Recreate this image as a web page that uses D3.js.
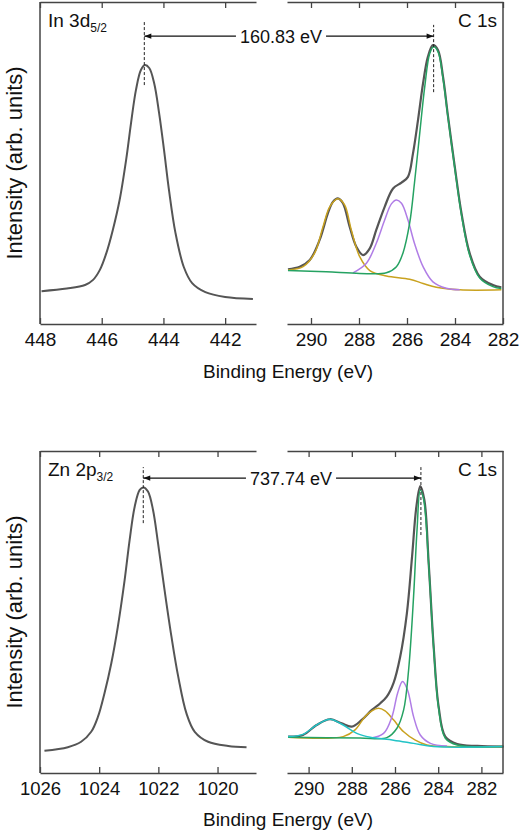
<!DOCTYPE html>
<html>
<head>
<meta charset="utf-8">
<script src="https://cdn.jsdelivr.net/npm/d3@7"></script>
<style>
  html, body { margin: 0; padding: 0; background: #fff; }
  svg { display: block; font-family: "Liberation Sans", Arial, Helvetica, sans-serif; }
</style>
</head>
<body>
<svg id="chart" width="520" height="833"></svg>
<script>
// ---------------- DATA ----------------
// tick labels
const ticksIn = [448, 446, 444, 442];
const ticksCTop = [290, 288, 286, 284, 282];
const ticksZn = [1026, 1024, 1022, 1020];
const ticksCBot = [290, 288, 286, 284, 282];

// In 3d5/2 spectrum
const inE = [447.95,447.13,446.54,446.28,446.06,445.85,445.64,445.42,445.21,445.05,444.89,444.73,444.60,444.46,444.30,444.14,443.98,443.82,443.61,443.34,443.07,442.64,442.00,441.10];
const inI = [10.2,11.0,12.1,13.7,16.8,22.0,29.2,38.5,50.9,62.4,72.7,78.9,80.4,79.5,74.8,65.5,54.0,41.6,28.3,17.7,12.7,9.9,8.4,7.8];

// C 1s (top) envelope and components
const cTopEnvE = [290.96,290.47,290.05,289.64,289.29,289.08,288.88,288.67,288.39,288.11,287.83,287.55,287.28,286.93,286.58,286.23,285.96,285.75,285.54,285.33,285.13,284.92,284.71,284.50,284.29,284.01,283.73,283.39,282.97,282.42,282.07];
const cTopEnvI = [17.0,17.8,19.9,26.1,34.5,38.0,39.0,37.5,30.2,24.0,21.4,23.5,29.2,36.4,42.1,43.9,45.7,53.0,63.4,74.8,83.0,86.6,85.1,76.8,64.4,48.9,34.4,22.0,14.7,12.1,11.4];
const cTopGreenE = [290.96,289.36,287.97,286.86,286.44,286.17,285.89,285.69,285.47,285.26,285.05,284.89,284.71,284.50,284.29,284.01,283.73,283.39,282.97,282.42,282.07];
const cTopGreenI = [16.6,16.2,15.7,15.9,17.8,22.0,31.3,43.7,59.2,73.7,84.1,86.1,84.6,76.3,64.0,48.4,33.9,21.4,14.3,11.6,11.0];
const cTopPurpleE = [288.25,287.69,287.28,286.93,286.65,286.44,286.23,285.96,285.69,285.33,284.92,284.36,283.80];
const cTopPurpleI = [15.9,18.9,25.1,32.3,37.3,38.5,37.5,32.3,25.1,17.8,13.1,11.1,10.6];
const cTopGoldE = [290.96,290.33,289.85,289.50,289.22,288.88,288.60,288.32,287.97,287.55,286.86,285.89,285.33,284.78,283.80,282.07];
const cTopGoldI = [16.8,17.8,22.0,30.2,36.4,38.9,37.0,29.2,20.9,16.6,14.9,13.9,12.6,11.4,10.6,10.6];

// Zn 2p3/2 spectrum
const znE = [1025.85,1025.06,1024.61,1024.27,1024.04,1023.82,1023.59,1023.37,1023.14,1022.97,1022.80,1022.63,1022.50,1022.35,1022.18,1022.01,1021.79,1021.56,1021.33,1021.05,1020.77,1020.32,1019.64,1019.02];
const znI = [6.9,8.0,9.7,12.8,17.5,24.8,34.1,45.4,59.9,72.4,82.7,87.9,88.7,87.4,81.7,71.3,56.8,42.5,30.0,18.5,12.8,9.7,8.4,8.0];

// C 1s (bottom) envelope and components
const cBotEnvE = [290.95,290.26,289.63,289.01,288.47,288.00,287.54,287.07,286.69,286.38,286.07,285.76,285.45,285.21,285.01,284.83,284.64,284.44,284.21,283.98,283.67,283.12,282.19,280.98];
const cBotEnvI = [11.3,11.8,14.9,16.7,15.4,14.4,16.5,19.6,21.6,23.7,27.9,36.1,49.6,67.2,82.7,89.1,84.8,65.1,39.2,20.6,11.3,9.0,8.4,8.2];
const cBotGreenE = [290.95,287.62,286.38,285.91,285.60,285.37,285.14,284.98,284.83,284.67,284.44,284.21,283.98,283.67,283.12,280.98];
const cBotGreenI = [11.1,10.9,11.0,13.9,19.6,32.0,54.8,75.5,87.9,84.8,64.6,38.7,20.1,10.8,8.7,8.2];
const cBotPurpleE = [287.15,286.53,286.14,285.88,285.65,285.42,285.14,284.83,284.36,283.59];
const cBotPurpleI = [10.8,12.3,17.5,24.8,28.4,25.8,17.5,11.8,9.2,8.4];
const cBotGoldE = [290.95,288.40,287.85,287.39,287.07,286.77,286.46,286.07,285.60,285.06,284.52,283.59,280.98];
const cBotGoldI = [11.1,11.3,13.4,17.5,19.3,20.1,19.3,16.5,12.8,10.2,8.7,8.2,8.2];
const cBotCyanE = [290.95,290.26,289.63,289.01,288.40,287.77,287.15,286.07,285.14,284.21,280.98];
const cBotCyanI = [11.3,12.0,14.9,16.7,14.9,12.3,11.1,10.2,9.2,8.2,8.2];

// peak separation annotations
const sepLabels = ["160.83 eV", "737.74 eV"];
const sepLeftPeak = [444.62, 1022.51];
const sepRightPeak = [284.89, 284.80];
const dashLeftRange = [[74.2, 93.8], [77.6, 95.0]];
const dashRightRange = [[72.0, 92.9], [73.9, 95.0]];
const arrowLevel = [89.4, 91.6];

const coreLabels = [["In 3d", "5/2"], ["Zn 2p", "3/2"]];
const cLabel = "C 1s";
const xTitle = "Binding Energy (eV)";
const yTitle = "Intensity (arb. units)";

// ---------------- DRAW ----------------
const COL = { env: "#555555", green: "#25a262", purple: "#b07de6", gold: "#c9a21f", cyan: "#22c3c6", axis: "#444444" };
const svg = d3.select("#chart");

const defs = svg.append("defs");
defs.append("marker").attr("id", "arr").attr("viewBox", "0 0 10 10")
  .attr("refX", 10).attr("refY", 5).attr("markerWidth", 8).attr("markerHeight", 7)
  .attr("markerUnits", "userSpaceOnUse").attr("orient", "auto")
  .append("path").attr("d", "M0,1.2 L10,5 L0,8.8 Z").attr("fill", "#111");

const rows = [
  { y0: 2, y1: 324, left: { x0: 40, x1: 256, dom: [448, 441], ticks: ticksIn, fs: 19 },
    right: { x0: 287, x1: 503, dom: [291, 282], ticks: ticksCTop, fs: 19 },
    labelX: 281, titleY: 378 },
  { y0: 451, y1: 773, left: { x0: 40, x1: 256, dom: [1026, 1018.7], ticks: ticksZn, fs: 18.5 },
    right: { x0: 287, x1: 503, dom: [291, 281], ticks: ticksCBot, fs: 18.5 },
    labelX: 291, titleY: 826 }
];

const leftCurves = [[[inE, inI, COL.env, 2]], [[znE, znI, COL.env, 2]]];
const rightCurves = [
  [[cTopEnvE, cTopEnvI, COL.env, 2.2], [cTopGoldE, cTopGoldI, COL.gold, 1.5], [cTopPurpleE, cTopPurpleI, COL.purple, 1.5], [cTopGreenE, cTopGreenI, COL.green, 1.5]],
  [[cBotEnvE, cBotEnvI, COL.env, 2.2], [cBotGoldE, cBotGoldI, COL.gold, 1.5], [cBotPurpleE, cBotPurpleI, COL.purple, 1.5], [cBotGreenE, cBotGreenI, COL.green, 1.5], [cBotCyanE, cBotCyanI, COL.cyan, 1.5]]
];

function drawPanel(g, p, y, side, curves, rowIdx) {
  const x = d3.scaleLinear().domain(p.dom).range([p.x0, p.x1]);
  const line = d3.line().x(d => x(d[0])).y(d => y(d[1])).curve(d3.curveCatmullRom.alpha(0.5));
  curves.forEach(([E, I, c, w]) => {
    g.append("path").datum(E.map((e, i) => [e, I[i]]))
      .attr("d", line).attr("fill", "none").attr("stroke", c).attr("stroke-width", w)
      .attr("stroke-linejoin", "round");
  });
  const axB = d3.axisBottom(x).tickValues(p.ticks).tickSizeInner(-6).tickSizeOuter(0).tickPadding(9).tickFormat(d3.format("d"));
  const axT = d3.axisTop(x).tickValues(p.ticks).tickSizeInner(-6).tickSizeOuter(0).tickFormat("");
  const gb = g.append("g").attr("transform", `translate(0,${y.range()[0]})`).call(axB);
  const gt = g.append("g").attr("transform", `translate(0,${y.range()[1]})`).call(axT);
  [gb, gt].forEach(a => {
    a.selectAll("path.domain").attr("stroke", COL.axis).attr("stroke-width", 1.5);
    a.selectAll(".tick line").attr("stroke", COL.axis).attr("stroke-width", 1.3);
    a.selectAll("text").attr("fill", "#111").attr("font-size", p.fs)
      .attr("font-family", "'Liberation Sans', Arial, sans-serif");
  });
  const vx = side === "left" ? p.x0 : p.x1;
  g.append("line").attr("x1", vx).attr("x2", vx).attr("y1", y.range()[1]).attr("y2", y.range()[0])
    .attr("stroke", COL.axis).attr("stroke-width", 1.5);
  return x;
}

rows.forEach((r, ri) => {
  const g = svg.append("g");
  const y = d3.scaleLinear().domain([0, 100]).range([r.y1, r.y0]);
  const xl = drawPanel(g, r.left, y, "left", leftCurves[ri], ri);
  const xr = drawPanel(g, r.right, y, "right", rightCurves[ri], ri);

  // core level label
  const t = g.append("text").attr("x", r.left.x0 + 8).attr("y", r.y0 + 25)
    .attr("font-size", 19).attr("fill", "#111");
  t.append("tspan").text(coreLabels[ri][0]);
  t.append("tspan").attr("dy", 5).attr("font-size", 12).text(coreLabels[ri][1]);
  g.append("text").attr("x", r.right.x1 - 6).attr("y", r.y0 + 25).attr("text-anchor", "end")
    .attr("font-size", 19).attr("fill", "#111").text(cLabel);

  // dashed peak markers
  const lx = xl(sepLeftPeak[ri]), rx = xr(sepRightPeak[ri]);
  [[lx, dashLeftRange[ri]], [rx, dashRightRange[ri]]].forEach(([px, rg]) => {
    g.append("line").attr("x1", px).attr("x2", px).attr("y1", y(rg[0])).attr("y2", y(rg[1]))
      .attr("stroke", "#222").attr("stroke-width", 1).attr("stroke-dasharray", "3,2");
  });
  const ay = y(arrowLevel[ri]);
  const lbl = g.append("text").attr("x", r.labelX).attr("y", ay + 6.5).attr("text-anchor", "middle")
    .attr("font-size", 18).attr("fill", "#111").text(sepLabels[ri]);
  const bb = lbl.node().getBBox();
  g.append("line").attr("x1", bb.x - 4).attr("x2", lx).attr("y1", ay).attr("y2", ay)
    .attr("stroke", "#111").attr("stroke-width", 1.2).attr("marker-end", "url(#arr)");
  g.append("line").attr("x1", bb.x + bb.width + 4).attr("x2", rx).attr("y1", ay).attr("y2", ay)
    .attr("stroke", "#111").attr("stroke-width", 1.2).attr("marker-end", "url(#arr)");

  // axis titles
  g.append("text").attr("x", 288).attr("y", r.titleY).attr("text-anchor", "middle")
    .attr("font-size", 19).attr("fill", "#111").text(xTitle);
  const cy = (r.y0 + r.y1) / 2;
  g.append("text").attr("transform", `translate(22,${cy}) rotate(-90)`).attr("text-anchor", "middle")
    .attr("font-size", 22).attr("fill", "#111").text(yTitle);
});
</script>
</body>
</html>
